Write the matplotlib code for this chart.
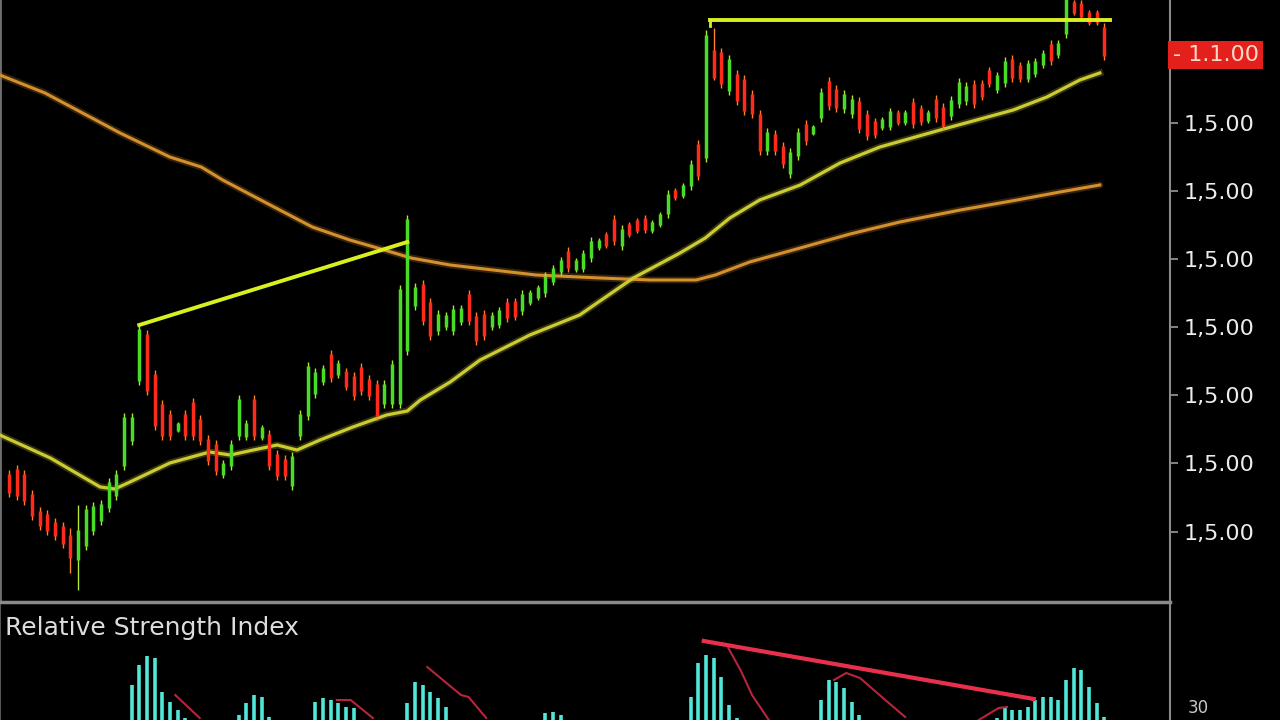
import matplotlib
matplotlib.use("Agg")
import matplotlib.pyplot as plt
import numpy as np

# ---------------- data ----------------
opens = [126,131,126,106,89,86,78,74,65,40,54,69,79,92,104,134,159,219,266,226,
         196,186,169,186,198,181,161,156,125,134,164,163,201,162,166,146,141,114,164,184,
         206,218,246,225,229,224,233,221,216,196,196,196,249,294,316,298,269,273,269,278,
         306,284,286,273,275,298,299,289,297,302,307,318,328,349,330,331,342,352,366,381,
         354,376,380,382,369,375,386,410,404,414,456,442,550,548,509,526,521,506,486,449,
         466,454,426,444,476,466,482,519,511,491,486,499,486,479,472,473,488,477,498,492,
         479,501,493,484,496,499,516,517,530,510,517,541,535,521,526,535,556,545,566,598,
         597,588,588,573]
highs = [130,135,130,110,93,90,82,78,72,95,95,98,100,122,130,187,187,275,270,230,
         200,190,178,190,202,185,165,160,140,160,205,180,205,175,170,150,145,148,190,238,
         232,235,250,240,232,228,237,225,220,220,240,315,385,317,320,302,290,288,295,295,
         310,288,290,288,293,302,302,310,310,315,328,335,343,353,342,350,363,362,368,385,
         375,378,382,385,380,388,410,412,417,440,460,570,572,552,545,530,525,510,490,472,
         470,458,452,472,480,475,512,523,515,510,505,503,490,482,483,492,490,490,502,495,
         490,505,497,504,522,518,520,520,533,528,543,545,538,540,542,550,560,560,605,600,
         600,590,590,577]
lows = [103,100,95,80,70,65,60,52,27,10,50,65,75,88,100,130,155,215,205,170,
        160,160,168,160,160,155,135,125,122,130,160,160,160,160,130,120,120,110,160,180,
        202,215,218,222,210,200,205,200,180,192,192,192,245,290,275,260,265,270,265,275,
        275,255,260,270,272,278,280,285,295,300,303,315,325,328,328,328,338,350,352,355,
        350,363,367,367,367,373,382,400,402,410,420,438,520,512,505,495,485,482,445,445,
        445,432,422,440,455,465,478,490,488,487,482,467,460,462,470,470,475,475,472,475,
        477,478,470,480,492,495,492,500,513,507,513,518,518,518,523,532,535,542,562,585,
        580,575,575,540]
closes = [107,104,99,84,74,69,64,56,42,70,91,94,96,118,126,183,183,271,209,174,
          164,164,177,164,164,159,139,129,137,156,201,177,164,173,134,124,124,144,186,234,
          228,232,222,237,213,204,209,204,184,216,236,311,381,313,279,264,286,285,291,292,
          279,259,264,285,290,282,283,306,308,313,324,332,340,332,340,347,359,360,354,359,
          371,365,369,370,378,386,406,402,415,436,424,565,522,516,541,499,489,486,449,468,
          449,436,448,468,459,474,508,494,492,506,501,471,464,465,481,489,477,488,476,478,
          488,482,474,500,518,514,496,503,516,525,539,522,521,537,539,547,539,557,601,587,
          583,577,577,544]

ma_fast_x = [-1.2,5.4,11.9,13.8,15.8,21,26.2,28.9,31.9,35,37.6,40.6,44.9,49.3,52,53.7,
             57.6,61.5,68,74.5,81.5,87.6,90.9,94.1,98,103.3,108.5,113.7,122.5,131.1,135.5,139.8,142.4]
ma_fast = [165,142,113,111,118,137,148,145,150,155,150,160,173,185,189,200,
           218,240,265,285,322,347,362,382,400,415,437,453,472,490,503,520,527]

ma_slow_x = [-1.2,4.7,14.5,21,25.1,27.9,34.1,39.6,44.5,49,52.5,57.6,68.8,77.2,83.7,89.7,
             92.2,96.7,103.3,109.8,116.3,124.2,131.6,137.2,142.4]
ma_slow = [525,507,467,443,433,420,395,373,360,350,342,335,325,322,320,320,
           325,338,352,366,378,390,400,408,415]

trend_x = [17, 52]
trend_y = [275, 358]
resist_x = [91.5, 143.8]
resist_y = [580, 580]

rsi_idx = [16,17,18,19,20,21,22,23,
           30,31,32,33,34,
           40,41,42,43,44,45,
           52,53,54,55,56,57,
           70,71,72,
           89,90,91,92,93,94,95,
           106,107,108,109,110,111,
           129,130,131,132,133,134,135,136,137,138,139,140,141,142,143]
rsi_val = [35,55,64,62,28,18,10,2,
           5,17,25,23,3,
           18,22,20,17,13,12,
           17,38,35,28,22,13,
           7,8,5,
           23,57,65,62,43,15,2,
           20,40,38,32,18,5,
           2,12,10,10,13,20,23,23,20,40,52,50,33,17,3]

rsi_lines_x = [[21.7,24.9], [42.8,44.6,47.5], [54.6,59,60,62.3],
               [93.9,95.5,97,99.2], [107.7,109.3,111.1,114.4,117], [126.6,129.2,130.3]]
rsi_lines_y = [[25,2], [20,20,2], [53,25,23,2],
               [72,50,25,0], [40,47,42,20,3], [0,12,13]]
rsi_trend_x = [90.7, 133.8]
rsi_trend_y = [79, 21]

tick_vals = [545, 477, 409, 341, 273, 205, 137, 68]
tick_labels = ["", "1,5.00", "1,5.00", "1,5.00", "1,5.00", "1,5.00", "1,5.00", "1,5.00"]
last_label = "1.1.00"
rsi_title = "Relative Strength Index"
rsi_level_label = "30"

# ---------------- figure ----------------
W, H = 1280, 720
fig = plt.figure(figsize=(12.8, 7.2), dpi=100, facecolor="black")
axw = 1170 / W
ax = fig.add_axes([0, 120 / H, axw, 600 / H], facecolor="black")
ax2 = fig.add_axes([0, 0, axw, 118 / H], facecolor="black", sharex=ax)

xmin, xmax = -1.175, 151.57
ax.set_xlim(xmin, xmax)
ax.set_ylim(0, 600)

o = np.array(opens); h = np.array(highs); l = np.array(lows); c = np.array(closes)
x = np.arange(len(o))
up = c >= o
body_col = np.where(up, "#48dc26", "#ff2a1a")
wick_col = np.where(up, "#b4e830", "#ff8420")

# moving averages with glow
ax.plot(ma_slow_x, ma_slow, color="#d08a28", lw=5, alpha=0.25, solid_capstyle="round", zorder=2)
ax.plot(ma_slow_x, ma_slow, color="#d4902c", lw=2.2, zorder=3)
ax.plot(ma_fast_x, ma_fast, color="#c8c830", lw=5, alpha=0.25, zorder=2)
ax.plot(ma_fast_x, ma_fast, color="#cccc32", lw=2.3, zorder=3)

ax.vlines(x, l, h, colors=wick_col, lw=1.0, zorder=4)
ax.vlines(x, np.minimum(o, c), np.maximum(o, c), colors=body_col, lw=2.5, zorder=5)

ax.plot(trend_x, trend_y, color="#d8f020", lw=2.8, zorder=6)
ax.plot(resist_x, resist_y, color="#d8f020", lw=2.8, zorder=6)
ax.plot([resist_x[0], resist_x[0]], [resist_y[0], resist_y[0] - 6], color="#d8f020", lw=2, zorder=6)

# axes styling
for s in ["top", "bottom"]:
    ax.spines[s].set_visible(False)
ax.spines["left"].set_color("#707070")
ax.spines["left"].set_linewidth(2)
ax.spines["right"].set_color("#8a8a8a")
ax.spines["right"].set_linewidth(1.5)
ax.set_xticks([])
ax.yaxis.tick_right()
ax.set_yticks(tick_vals)
ax.set_yticklabels(tick_labels)
ax.tick_params(axis="y", colors="#9a9a9a", length=6, width=1.2, pad=4,
               labelcolor="#ececec", labelsize=16)

ax.annotate("- " + last_label, xy=(1.0, tick_vals[0]), xycoords=("axes fraction", "data"),
            xytext=(2, 0), textcoords="offset points", va="center", ha="left",
            fontsize=16, color="#ffd8c8",
            bbox=dict(boxstyle="square,pad=0.2", fc="#e4201c", ec="none"),
            annotation_clip=False)

# RSI panel
ax2.set_ylim(0, 118)
ax2.vlines(rsi_idx, 0, rsi_val, colors="#50e6d8", lw=2.6, zorder=3)
for xs, ys in zip(rsi_lines_x, rsi_lines_y):
    ax2.plot(xs, ys, color="#b8243e", lw=1.5, zorder=4)
ax2.plot(rsi_trend_x, rsi_trend_y, color="#e8304c", lw=3, zorder=5)
ax2.spines["bottom"].set_visible(False)
ax2.spines["top"].set_color("#8a8a8a")
ax2.spines["top"].set_linewidth(2.5)
ax2.spines["left"].set_color("#555555")
ax2.spines["right"].set_color("#8a8a8a")
ax2.spines["right"].set_linewidth(1.5)
ax2.set_yticks([])
ax2.tick_params(axis="x", length=0, labelbottom=False)
ax2.text(0.004, 0.78, rsi_title, transform=ax2.transAxes, color="#dcdcdc",
         fontsize=18, va="center", ha="left")
fig.text(1188 / W, 3 / H, rsi_level_label, color="#c8c8c8", fontsize=12, va="bottom", ha="left")

fig.savefig("out.png", dpi=100, facecolor="black")
